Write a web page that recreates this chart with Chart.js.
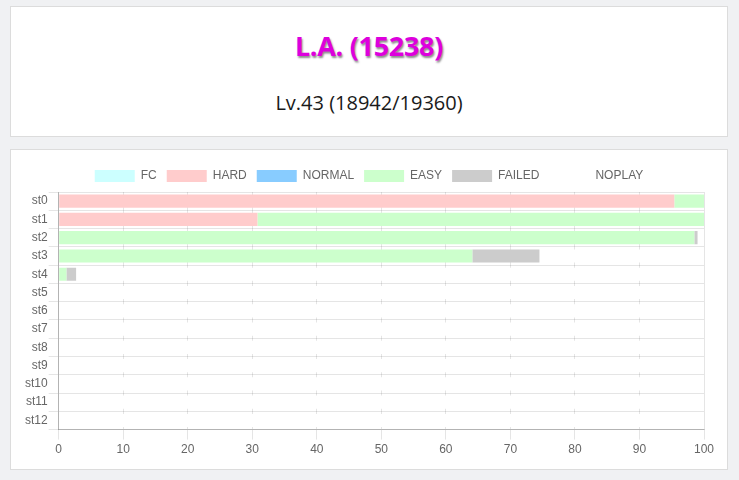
<!DOCTYPE html>
<html>
<head>
<meta charset="utf-8">
<script src="https://cdn.jsdelivr.net/npm/chart.js@4.4.1/dist/chart.umd.min.js"></script>
<style>
  html, body { margin: 0; padding: 0; }
  body { width: 739px; height: 480px; background: #f0f1f3; position: relative; overflow: hidden; }
  .card { position: absolute; background: #fff; border: 1px solid #dcdcdc; box-sizing: border-box; }
  #head { left: 10px; top: 6px; width: 718px; height: 131px; }
  #body { left: 10px; top: 149px; width: 718px; height: 321px; }
  .title { position: absolute; left: 0; right: 0; top: 19px; height: 40px; line-height: 40px; text-align: center;
    font-family: 'Open Sans', sans-serif; font-weight: 700; font-size: 27px; color: #dd00dd; letter-spacing: -0.3px;
    text-shadow: 1px 2px 2px rgba(0,0,0,0.45); }
  .sub { position: absolute; left: 0; right: 0; top: 81px; height: 30px; line-height: 30px; text-align: center;
    font-family: 'Open Sans', sans-serif; font-size: 20px; color: #1a1a1a; }
  #wrap { position: absolute; left: 0; top: 0; width: 716px; height: 319px; }
</style>
</head>
<body>
<div class="card" id="head">
  <div class="title">L.A. (15238)</div>
  <div class="sub">Lv.43 (18942/19360)</div>
</div>
<div class="card" id="body">
  <div id="wrap"><canvas id="c"></canvas></div>
</div>
<script>
const categories = ['st0','st1','st2','st3','st4','st5','st6','st7','st8','st9','st10','st11','st12'];
const xTicks = [0,10,20,30,40,50,60,70,80,90,100];
const fc      = [0,    0,    0,    0,    0,    0,0,0,0,0,0,0,0];
const hard    = [95.4, 30.8, 0,    0,    0,    0,0,0,0,0,0,0,0];
const normal  = [0,    0,    0,    0,    0,    0,0,0,0,0,0,0,0];
const easy    = [4.6,  69.2, 98.5, 64.1, 1.2,  0,0,0,0,0,0,0,0];
const failed  = [0,    0,    0.5,  10.4, 1.5,  0,0,0,0,0,0,0,0];
const noplay  = [0,    0,    1.0,  25.5, 97.3, 100,100,100,100,100,100,100,100];

Chart.defaults.font.family = "'Liberation Sans', Arial, sans-serif";
Chart.defaults.font.size = 12;
Chart.defaults.color = '#666';

const mk = (label, data, color) => ({ label, data, backgroundColor: color, borderWidth: 0,
  categoryPercentage: 0.8, barPercentage: 0.9 });

const legendShift = {
  id: 'legendShift',
  afterLayout(chart) {
    const lg = chart.legend;
    if (lg) { lg.left += 5; lg.right += 5; }
  }
};

new Chart(document.getElementById('c'), {
  type: 'bar',
  data: {
    labels: categories,
    datasets: [
      mk('FC', fc, '#ccffff'),
      mk('HARD', hard, '#ffcccc'),
      mk('NORMAL', normal, '#88ccff'),
      mk('EASY', easy, '#ccffcc'),
      mk('FAILED', failed, '#cccccc'),
      mk('NOPLAY', noplay, '#ffffff')
    ]
  },
  plugins: [legendShift],
  options: {
    indexAxis: 'y',
    responsive: true,
    maintainAspectRatio: false,
    animation: false,
    layout: { padding: { left: 13, right: 23, top: 10, bottom: 9 } },
    plugins: {
      legend: { position: 'top', labels: { boxWidth: 40, boxHeight: 12, color: '#666' } },
      tooltip: { enabled: false }
    },
    scales: {
      x: {
        stacked: true, min: 0, max: 100,
        afterBuildTicks: s => { s.ticks = xTicks.map(v => ({ value: v })); },
        grid: { color: 'rgba(0,0,0,0.1)', tickLength: 10 },
        border: { color: 'rgba(0,0,0,0.22)' },
        ticks: { padding: 3, color: '#666' }
      },
      y: {
        stacked: true,
        grid: { color: 'rgba(0,0,0,0.1)', tickLength: 10, offset: true },
        border: { color: 'rgba(0,0,0,0.22)' },
        ticks: { padding: 1, color: '#666' }
      }
    }
  }
});
</script>
</body>
</html>
